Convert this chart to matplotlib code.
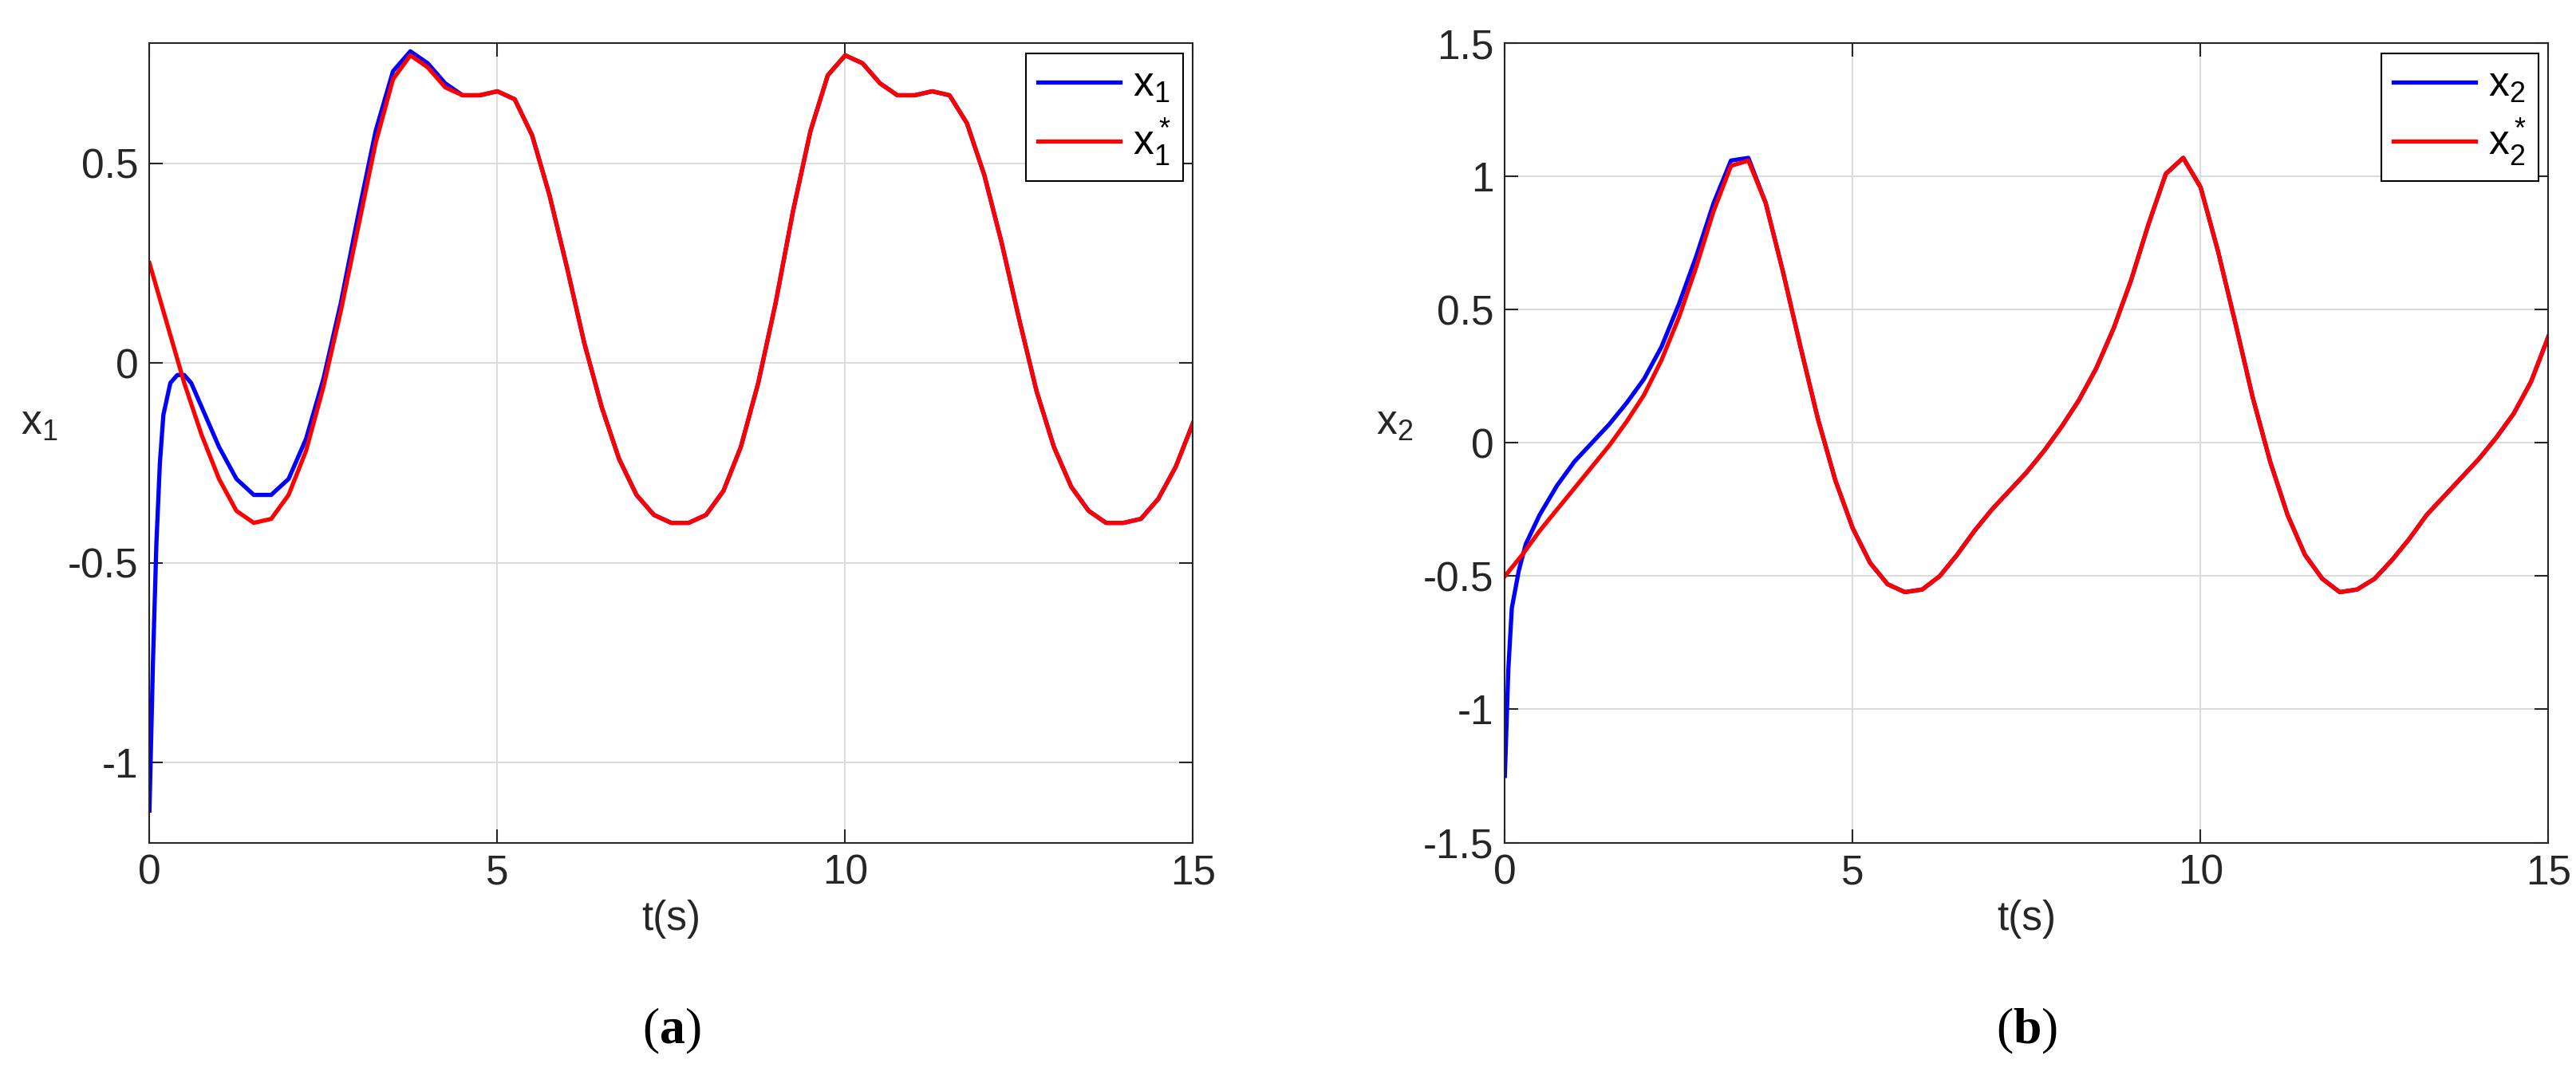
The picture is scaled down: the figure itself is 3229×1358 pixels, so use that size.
import numpy as np
import matplotlib
matplotlib.use("Agg")
from matplotlib import pyplot as plt
from matplotlib.ticker import FuncFormatter

plt.rcParams['font.family'] = ['Liberation Sans', 'DejaVu Sans']
plt.rcParams['mathtext.fontset'] = 'custom'
plt.rcParams['mathtext.rm'] = 'Liberation Sans'
plt.rcParams['mathtext.it'] = 'Liberation Sans'
plt.rcParams['mathtext.bf'] = 'Liberation Serif:bold'

# time grid for the reference curves (every 0.25 s)
t_ref = np.arange(0, 61) * 0.25

x1_ref = [0.25, 0.10, -0.05, -0.18, -0.29, -0.37, -0.40, -0.39, -0.33, -0.22,
          -0.06, 0.13, 0.34, 0.55, 0.71, 0.77, 0.74, 0.69, 0.67, 0.67,
          0.68, 0.66, 0.57, 0.42, 0.24, 0.05, -0.11, -0.24, -0.33, -0.38,
          -0.40, -0.40, -0.38, -0.32, -0.21, -0.05, 0.15, 0.38, 0.58, 0.72,
          0.77, 0.75, 0.70, 0.67, 0.67, 0.68, 0.67, 0.60, 0.47, 0.30,
          0.11, -0.07, -0.21, -0.31, -0.37, -0.40, -0.40, -0.39, -0.34, -0.26,
          -0.15]

x2_ref = [-0.50, -0.42, -0.33, -0.25, -0.17, -0.09, -0.01, 0.08, 0.18, 0.31,
          0.47, 0.66, 0.87, 1.04, 1.06, 0.90, 0.64, 0.36, 0.09, -0.14,
          -0.32, -0.45, -0.53, -0.56, -0.55, -0.50, -0.42, -0.33, -0.25, -0.18,
          -0.11, -0.03, 0.06, 0.16, 0.28, 0.43, 0.61, 0.82, 1.01, 1.07,
          0.96, 0.72, 0.45, 0.17, -0.07, -0.27, -0.42, -0.51, -0.56, -0.55,
          -0.51, -0.44, -0.36, -0.27, -0.20, -0.13, -0.06, 0.02, 0.11, 0.23,
          0.40]

# actual states during the transient; afterwards they follow the reference
t1_start = [0, 0.05, 0.1, 0.15, 0.2, 0.3, 0.4, 0.5, 0.6, 0.75, 1.0, 1.25, 1.5,
            1.75, 2.0, 2.25, 2.5, 2.75, 3.0, 3.25, 3.5, 3.75, 4.0, 4.25, 4.5]
x1_start = [-1.12, -0.75, -0.45, -0.25, -0.13, -0.05, -0.03, -0.03, -0.05, -0.11,
            -0.21, -0.29, -0.33, -0.33, -0.29, -0.19, -0.04, 0.15, 0.37, 0.58,
            0.73, 0.78, 0.75, 0.70, 0.67]
t2_start = [0, 0.05, 0.1, 0.2, 0.3, 0.5, 0.75, 1.0, 1.25, 1.5, 1.75, 2.0, 2.25,
            2.5, 2.75, 3.0, 3.25, 3.5]
x2_start = [-1.25, -0.85, -0.62, -0.48, -0.38, -0.27, -0.16, -0.07, 0.00, 0.07,
            0.15, 0.24, 0.36, 0.52, 0.70, 0.90, 1.06, 1.07]

t1 = np.concatenate([t1_start, t_ref[19:]])
x1 = np.concatenate([x1_start, x1_ref[19:]])
t2 = np.concatenate([t2_start, t_ref[15:]])
x2 = np.concatenate([x2_start, x2_ref[15:]])

fig = plt.figure(figsize=(32.3, 13.58), dpi=100)
ax1 = fig.add_axes([0.058, 0.222, 0.405, 0.738])
ax2 = fig.add_axes([0.584, 0.222, 0.405, 0.738])

fs = 37
panels = [
    (ax1, t1, x1, x1_ref, (-1.2, 0.8), [-1, -0.5, 0, 0.5], '1', '(a)'),
    (ax2, t2, x2, x2_ref, (-1.5, 1.5), [-1.5, -1, -0.5, 0, 0.5, 1, 1.5], '2', '(b)'),
]
for ax, tt, xx, xr, ylim, yt, k, cap in panels:
    ax.plot(tt, xx, color='#0000ff', lw=3.8, label=r'x$_%s$' % k)
    ax.plot(t_ref, xr, color='#ff0000', lw=3.8, label=r'x$_%s^*$' % k)
    ax.set_xlim(0, 15)
    ax.set_ylim(*ylim)
    ax.set_xticks([0, 5, 10, 15])
    ax.set_yticks(yt)
    ax.yaxis.set_major_formatter(FuncFormatter(lambda v, p: '%g' % v))
    ax.grid(True, color='#dcdcdc', lw=1.5)
    ax.tick_params(direction='in', labelsize=fs, length=12, width=1.5,
                   top=True, right=True, pad=10, colors='#262626')
    for s in ax.spines.values():
        s.set_color('#262626')
        s.set_linewidth(1.5)
    ax.set_xlabel('t(s)', fontsize=fs, color='#262626', labelpad=6)
    ax.set_ylabel(r'x$_%s$' % k, fontsize=fs, rotation=0, color='#262626', labelpad=26)
    leg = ax.legend(loc='upper right', fontsize=fs, fancybox=False, framealpha=1,
                    edgecolor='black', borderaxespad=0.25, handlelength=2.0,
                    borderpad=0.3, labelspacing=0.3, handletextpad=0.3)
    leg.get_frame().set_linewidth(1.5)
    letter = cap[1]
    ax.text(0.5, -0.205, r'($\mathbf{%s}$)' % letter, transform=ax.transAxes,
            ha='center', va='top', fontsize=46, family='Liberation Serif')

fig.savefig('out.png', dpi=100)
